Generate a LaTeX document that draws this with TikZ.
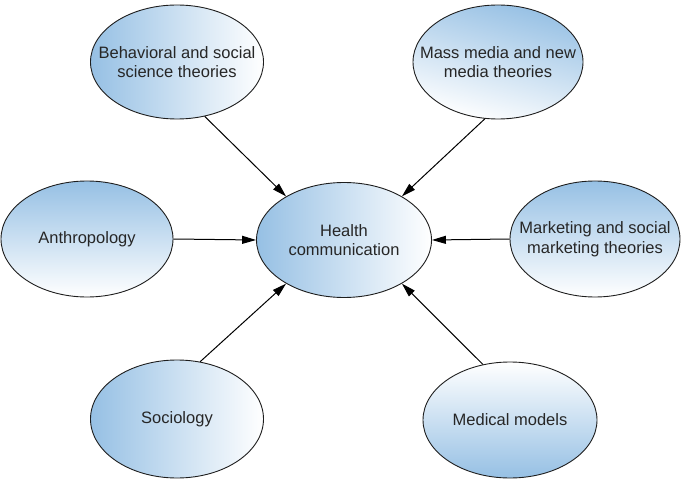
\documentclass[tikz,border=0pt]{standalone}
\usepackage{fontspec}
\setmainfont{Liberation Sans}
\usetikzlibrary{arrows.meta,shapes.geometric}
\definecolor{hb}{RGB}{150,192,228}
\definecolor{edge}{RGB}{30,30,30}
\begin{document}
\begin{tikzpicture}[x=1pt,y=1pt,
  bub/.style={ellipse,draw=edge,line width=0.9pt,inner sep=0pt,
    minimum width=172pt,minimum height=116pt},
  txt/.style={align=center,inner sep=0pt,
    font=\fontsize{16.5}{19.5}\selectfont,text=black!85},
  lr/.style={left color=hb,right color=white},
  tb/.style={top color=hb,bottom color=white},
  bt/.style={top color=white,bottom color=hb},
  tr/.style={top color=hb,bottom color=white,shading angle=-15},
  conn/.style={draw=black,line width=1pt,-{Triangle[length=14pt,width=8pt]}}]
\useasboundingbox (0,0) rectangle (685,480);
\node[bub,lr,minimum width=173pt,minimum height=114pt,label={[txt]center:Behavioral and social\\science theories}] (beh) at (177,418) {};
\node[bub,tr,minimum width=170pt,minimum height=114pt,label={[txt]center:Mass media and new\\media theories}] (mass) at (498,418) {};
\node[bub,tb,label={[txt]center:Anthropology}] (anth) at (87,241) {};
\node[bub,lr,minimum width=175pt,minimum height=115pt,label={[txt]center:Health\\communication}] (health) at (344,240) {};
\node[bub,tb,minimum width=170pt,label={[txt]center:Marketing and social\\marketing theories}] (mkt) at (595,241) {};
\node[bub,lr,minimum width=173pt,minimum height=118pt,label={[txt]center:Sociology}] (soc) at (177,61) {};
\node[bub,bt,minimum width=174pt,label={[txt]center:Medical models}] (med) at (510,60) {};
\draw[conn] (beh.-63) -- (health.143);
\draw[conn] (mass.-103) -- (health.37);
\draw[conn] (anth.east) -- (health.west);
\draw[conn] (mkt.west) -- (health.east);
\draw[conn] (soc.68) -- (health.-143);
\draw[conn] (med.116) -- (health.-37);
\end{tikzpicture}
\end{document}
